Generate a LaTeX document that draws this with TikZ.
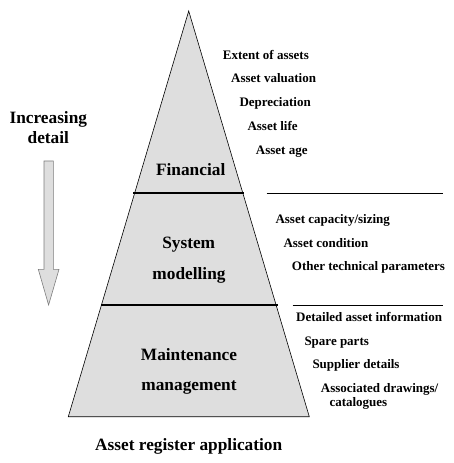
\documentclass[tikz,border=0pt]{standalone}
\usepackage{fontspec}
\setmainfont{Liberation Serif}
\usetikzlibrary{positioning}
\definecolor{pyrgray}{RGB}{222,222,222}
\definecolor{arrowedge}{RGB}{125,125,125}

\begin{document}
\begin{tikzpicture}[
    x=1bp, y=-1bp,
    every node/.style={inner sep=0pt},
    big/.style={font=\fontsize{17.3bp}{20bp}\selectfont\bfseries, anchor=base},
    item/.style={font=\fontsize{13bp}{15bp}\selectfont\bfseries, anchor=base west},
    pyr/.style={draw=black, line width=0.6pt, fill=pyrgray},
    layer/.style={draw=black, line width=2pt},
    rule/.style={draw=black, line width=0.7pt},
    downarrow/.style={draw=arrowedge, line width=0.6pt, fill=pyrgray},
]
\useasboundingbox (0,0) rectangle (454,463);

% ====== PYRAMID ======
\coordinate (apex) at (188.7,11);
\coordinate (bl)   at (68.3,416.7);
\coordinate (br)   at (309.3,416.7);
\draw[pyr] (apex) -- (bl) -- (br) -- cycle;

% layer dividers
\coordinate (d1-l) at (133.3,193.3);
\coordinate (d1-r) at (244.3,193.3);
\coordinate (d2-l) at (101,305);
\coordinate (d2-r) at (277.7,305);
\draw[layer] (d1-l) -- (d1-r);
\draw[layer] (d2-l) -- (d2-r);

\node[big] (fin)    at (190.7,176)   {Financial};
\node[big] (sys)    at (188.7,248.3) {System};
\node[big] (model)  at (189,279.3)   {modelling};
\node[big] (maint)  at (189,360)     {Maintenance};
\node[big] (manage) at (189,390.7)   {management};

\node[big] (title) at (188.7,450.7) {Asset register application};

% ====== ARROW ======
\node[big] (incr)   at (48.3,123.3) {Increasing};
\node[big] (detail) at (48.3,143.3) {detail};
\draw[downarrow] (44,161) -- (53.3,161) -- (53.3,269.3) -- (59,269.3)
    -- (48.6,305) -- (38.3,269.3) -- (44,269.3) -- cycle;

% ====== RIGHT: items per layer ======
\node[item] (ext)   at (222.7,60)    {Extent of assets};
\node[item] (val)   at (231,82.9)    {Asset valuation};
\node[item] (dep)   at (239.3,106.7) {Depreciation};
\node[item] (life)  at (247.3,130.7) {Asset life};
\node[item] (age)   at (255.7,154.5) {Asset age};

\coordinate (r1-l) at (266.7,193.8);
\coordinate (r1-r) at (443.3,193.8);
\draw[rule] (r1-l) -- (r1-r);

\node[item] (cap)   at (275.3,223.6) {Asset capacity/sizing};
\node[item] (cond)  at (283.3,247.7) {Asset condition};
\node[item] (other) at (291.7,270.8) {Other technical parameters};

\coordinate (r2-l) at (292.7,305);
\coordinate (r2-r) at (443.3,305);
\draw[rule] (r2-l) -- (r2-r);

\node[item] (det)   at (296,321.2)   {Detailed asset information};
\node[item] (spare) at (304.3,345.1) {Spare parts};
\node[item] (supp)  at (312.3,368.3) {Supplier details};
\node[item] (assoc) at (320.7,392.3) {Associated drawings/};
\node[item] (cat)   at (329.3,406.7) {catalogues};

\end{tikzpicture}
\end{document}
